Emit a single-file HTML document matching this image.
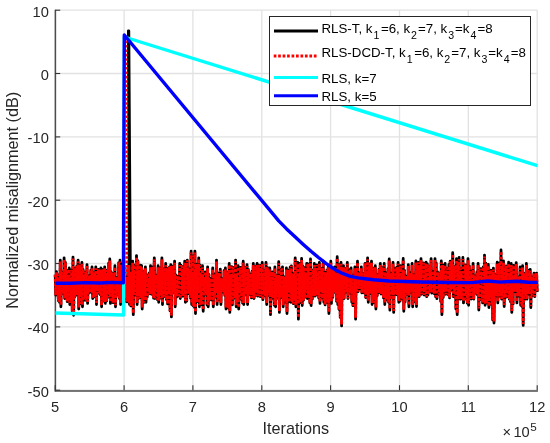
<!DOCTYPE html>
<html><head><meta charset="utf-8"><title>Normalized misalignment</title>
<style>
html,body{margin:0;padding:0;background:#fff;}
svg{display:block;font-family:"Liberation Sans",Arial,Helvetica,sans-serif;}
.tk text{font-size:14.67px;fill:#262626;}
.lg text{font-size:13.3px;fill:#000;}
.lg .s{font-size:10.6px;}
</style></head><body>
<svg width="550" height="443" viewBox="0 0 550 443">
<rect width="550" height="443" fill="#fff"/>
<g stroke="#e2e2e2" stroke-width="1.3" fill="none">
<line x1="55.2" y1="10.2" x2="55.2" y2="390.2"/>
<line x1="124.1" y1="10.2" x2="124.1" y2="390.2"/>
<line x1="192.9" y1="10.2" x2="192.9" y2="390.2"/>
<line x1="261.8" y1="10.2" x2="261.8" y2="390.2"/>
<line x1="330.6" y1="10.2" x2="330.6" y2="390.2"/>
<line x1="399.5" y1="10.2" x2="399.5" y2="390.2"/>
<line x1="468.3" y1="10.2" x2="468.3" y2="390.2"/>
<line x1="537.2" y1="10.2" x2="537.2" y2="390.2"/>
<line x1="55.2" y1="10.2" x2="537.2" y2="10.2"/>
<line x1="55.2" y1="73.5" x2="537.2" y2="73.5"/>
<line x1="55.2" y1="136.9" x2="537.2" y2="136.9"/>
<line x1="55.2" y1="200.2" x2="537.2" y2="200.2"/>
<line x1="55.2" y1="263.5" x2="537.2" y2="263.5"/>
<line x1="55.2" y1="326.9" x2="537.2" y2="326.9"/>
<line x1="55.2" y1="390.2" x2="537.2" y2="390.2"/>
</g>
<g stroke="#4d4d4d" stroke-width="1.5" fill="none">
<line x1="55.4" y1="9.7" x2="55.4" y2="391.6"/>
<line x1="54.7" y1="390.9" x2="537.9" y2="390.9"/>
</g>
<g stroke="#333" stroke-width="1.1" fill="none">
<line x1="55.2" y1="390.2" x2="55.2" y2="385.2"/>
<line x1="124.1" y1="390.2" x2="124.1" y2="385.2"/>
<line x1="192.9" y1="390.2" x2="192.9" y2="385.2"/>
<line x1="261.8" y1="390.2" x2="261.8" y2="385.2"/>
<line x1="330.6" y1="390.2" x2="330.6" y2="385.2"/>
<line x1="399.5" y1="390.2" x2="399.5" y2="385.2"/>
<line x1="468.3" y1="390.2" x2="468.3" y2="385.2"/>
<line x1="537.2" y1="390.2" x2="537.2" y2="385.2"/>
<line x1="55.2" y1="10.2" x2="60.2" y2="10.2"/>
<line x1="55.2" y1="73.5" x2="60.2" y2="73.5"/>
<line x1="55.2" y1="136.9" x2="60.2" y2="136.9"/>
<line x1="55.2" y1="200.2" x2="60.2" y2="200.2"/>
<line x1="55.2" y1="263.5" x2="60.2" y2="263.5"/>
<line x1="55.2" y1="326.9" x2="60.2" y2="326.9"/>
<line x1="55.2" y1="390.2" x2="60.2" y2="390.2"/>
</g>
<g fill="none" stroke-linejoin="round">
<polyline stroke="#000" stroke-width="2.8" stroke-linejoin="round" points="55.2,274.6 55.8,295.2 56.5,271.7 57.1,294.0 57.7,274.6 58.4,300.8 59.0,277.5 59.6,302.4 60.3,260.1 60.9,306.8 61.6,272.0 62.2,292.5 62.8,272.5 63.5,293.4 64.1,257.8 64.7,298.5 65.4,262.4 66.0,298.1 66.6,270.2 67.3,301.6 67.9,276.8 68.5,291.8 69.2,268.0 69.8,304.5 70.4,277.7 71.1,300.9 71.7,269.7 72.3,311.2 73.0,257.1 73.6,315.3 74.3,268.2 74.9,296.8 75.5,276.7 76.2,295.0 76.8,266.0 77.4,294.4 78.1,260.1 78.7,309.0 79.3,265.0 80.0,293.1 80.6,273.8 81.2,303.9 81.9,262.3 82.5,306.8 83.1,269.3 83.8,300.4 84.4,277.1 85.0,296.9 85.7,272.0 86.3,300.5 87.0,264.6 87.6,303.4 88.2,278.2 88.9,293.2 89.5,275.3 90.1,290.2 90.8,270.2 91.4,292.4 92.0,266.8 92.7,298.5 93.3,272.7 93.9,297.0 94.6,271.9 95.2,291.6 95.8,266.8 96.5,304.5 97.1,275.1 97.7,291.4 98.4,269.4 99.0,293.3 99.7,272.7 100.3,294.8 100.9,268.0 101.6,306.8 102.2,278.1 102.8,301.1 103.5,269.2 104.1,301.1 104.7,266.8 105.4,303.4 106.0,276.1 106.6,301.0 107.3,270.1 107.9,291.6 108.5,263.3 109.2,297.4 109.8,258.9 110.4,303.4 111.1,271.7 111.7,293.2 112.4,277.7 113.0,302.7 113.6,273.1 114.3,298.5 114.9,265.7 115.5,306.8 116.2,278.0 116.8,295.3 117.4,277.4 118.1,291.5 118.7,262.7 119.3,298.4 120.0,260.1 120.6,304.5 121.2,265.4 121.9,293.8 122.5,263.5 123.1,303.4 123.8,273.5 124.4,296.1 125.1,268.1 125.7,301.3 126.3,276.3 127.0,301.9 127.6,278.2 128.2,299.7 128.9,263.5 129.2,262.0 128.4,30.8 128.8,30.8 130.3,262.0 129.5,304.5 130.1,272.1 130.8,305.9 131.4,277.6 132.0,305.0 132.7,261.2 133.3,314.7 133.9,264.9 134.6,294.7 135.2,272.8 135.9,295.1 136.5,255.6 137.1,304.5 137.8,260.7 138.4,298.6 139.0,272.2 139.7,294.7 140.3,265.1 140.9,297.9 141.6,265.7 142.2,309.0 142.8,273.1 143.5,302.8 144.1,270.9 144.7,296.5 145.4,266.8 146.0,302.3 146.6,274.6 147.3,296.9 147.9,278.3 148.6,291.1 149.2,272.9 149.8,293.7 150.5,265.7 151.1,294.0 151.7,267.8 152.4,294.5 153.0,266.6 153.6,298.2 154.3,257.8 154.9,298.5 155.5,274.8 156.2,289.4 156.8,275.7 157.4,299.7 158.1,265.7 158.7,302.3 159.3,269.3 160.0,295.5 160.6,267.6 161.3,298.4 161.9,257.8 162.5,304.5 163.2,270.0 163.8,296.6 164.4,268.7 165.1,290.9 165.7,263.5 166.3,299.6 167.0,268.4 167.6,303.9 168.2,269.1 168.9,294.4 169.5,267.0 170.1,310.9 170.8,264.6 171.4,316.9 172.0,265.8 172.7,292.6 173.3,277.5 174.0,291.2 174.6,261.2 175.2,306.8 175.9,275.0 176.5,297.1 177.1,277.4 177.8,296.1 178.4,275.9 179.0,295.8 179.7,263.5 180.3,298.5 180.9,265.1 181.6,294.5 182.2,266.3 182.8,296.3 183.5,268.7 184.1,291.3 184.7,261.2 185.4,302.3 186.0,262.9 186.7,301.2 187.3,260.2 187.9,290.1 188.6,268.6 189.2,293.7 189.8,272.4 190.5,298.3 191.1,251.1 191.7,304.5 192.4,255.6 193.0,305.7 193.6,271.7 194.3,307.3 194.9,251.1 195.5,313.5 196.2,264.0 196.8,302.0 197.5,264.7 198.1,292.1 198.7,257.8 199.4,306.8 200.0,265.0 200.6,304.6 201.3,274.1 201.9,304.6 202.5,265.7 203.2,311.3 203.8,277.2 204.4,291.6 205.1,271.8 205.7,294.3 206.3,272.9 207.0,305.0 207.6,266.8 208.2,306.8 208.9,274.5 209.5,300.2 210.2,278.4 210.8,296.0 211.4,278.2 212.1,300.2 212.7,268.0 213.3,306.8 214.0,273.6 214.6,297.3 215.2,274.3 215.9,293.0 216.5,260.1 217.1,304.5 217.8,277.5 218.4,299.7 219.0,273.0 219.7,293.7 220.3,269.1 220.9,304.5 221.6,278.6 222.2,292.3 222.9,278.5 223.5,292.0 224.1,270.5 224.8,295.5 225.4,268.0 226.0,309.0 226.7,271.8 227.3,295.0 227.9,273.2 228.6,308.3 229.2,263.5 229.8,312.4 230.5,276.7 231.1,304.2 231.7,266.6 232.4,304.8 233.0,267.5 233.6,296.5 234.3,276.4 234.9,298.2 235.6,260.1 236.2,306.8 236.8,274.8 237.5,299.6 238.1,265.7 238.7,309.0 239.4,277.0 240.0,293.3 240.6,267.4 241.3,299.3 241.9,267.5 242.5,303.1 243.2,261.2 243.8,304.5 244.4,267.1 245.1,295.0 245.7,269.8 246.3,292.2 247.0,264.6 247.6,304.5 248.3,269.4 248.9,294.8 249.5,273.6 250.2,293.9 250.8,278.0 251.4,297.9 252.1,271.2 252.7,292.3 253.3,263.5 254.0,298.5 254.6,273.2 255.2,295.7 255.9,266.0 256.5,291.2 257.1,263.5 257.8,296.2 258.4,264.8 259.0,289.5 259.7,268.3 260.3,296.7 261.0,265.2 261.6,290.0 262.2,262.3 262.9,299.6 263.5,276.3 264.1,291.6 264.8,269.8 265.4,295.9 266.0,262.3 266.7,304.5 267.3,267.5 267.9,295.4 268.6,270.6 269.2,293.7 269.8,268.0 270.5,314.7 271.1,276.3 271.8,297.3 272.4,271.8 273.0,298.5 273.7,278.7 274.3,305.3 274.9,266.8 275.6,306.8 276.2,275.4 276.8,298.3 277.5,274.9 278.1,294.3 278.7,261.7 279.4,312.4 280.0,276.8 280.6,293.9 281.3,268.8 281.9,297.8 282.5,266.8 283.2,306.8 283.8,276.7 284.5,301.3 285.1,276.7 285.7,302.2 286.4,268.0 287.0,313.5 287.6,275.3 288.3,302.1 288.9,270.0 289.5,291.7 290.2,266.8 290.8,302.3 291.4,265.8 292.1,302.0 292.7,274.3 293.3,303.6 294.0,273.5 294.6,298.1 295.2,257.8 295.9,306.8 296.5,277.0 297.2,301.3 297.8,262.3 298.4,319.2 299.1,273.9 299.7,300.5 300.3,263.1 301.0,302.8 301.6,258.5 302.2,305.6 302.9,265.9 303.5,300.1 304.1,267.4 304.8,297.4 305.4,273.8 306.0,290.2 306.7,263.5 307.3,298.5 307.9,263.9 308.6,297.2 309.2,271.8 309.9,302.9 310.5,258.9 311.1,305.6 311.8,276.2 312.4,299.0 313.0,269.8 313.7,295.3 314.3,263.5 314.9,296.2 315.6,268.6 316.2,295.1 316.8,265.0 317.5,293.9 318.1,272.2 318.7,298.0 319.4,262.3 320.0,303.4 320.6,268.1 321.3,291.7 321.9,269.6 322.6,298.2 323.2,261.2 323.8,302.3 324.5,277.8 325.1,304.9 325.7,272.2 326.4,298.5 327.0,269.9 327.6,302.6 328.3,265.7 328.9,313.5 329.5,270.7 330.2,298.3 330.8,261.2 331.4,303.4 332.1,270.4 332.7,297.5 333.4,268.3 334.0,290.5 334.6,267.0 335.3,292.5 335.9,273.2 336.5,301.3 337.2,256.7 337.8,304.5 338.4,264.5 339.1,309.6 339.7,269.5 340.3,317.5 341.0,262.3 341.6,325.9 342.2,268.2 342.9,298.9 343.5,265.7 344.1,298.5 344.8,271.6 345.4,292.4 346.1,268.4 346.7,292.2 347.3,262.3 348.0,298.5 348.6,272.0 349.2,292.3 349.9,269.4 350.5,293.2 351.1,268.0 351.8,302.3 352.4,274.8 353.0,305.6 353.7,279.0 354.3,302.2 354.9,266.8 355.6,319.2 356.2,270.4 356.8,291.2 357.5,261.2 358.1,291.7 358.8,272.6 359.4,289.0 360.0,275.1 360.7,289.0 361.3,266.8 361.9,292.9 362.6,274.5 363.2,290.9 363.8,273.2 364.5,293.2 365.1,263.4 365.7,297.6 366.4,270.8 367.0,292.0 367.6,257.8 368.3,302.3 368.9,265.8 369.5,290.3 370.2,263.7 370.8,293.6 371.5,261.2 372.1,304.5 372.7,272.2 373.4,302.7 374.0,268.0 374.6,298.5 375.3,265.7 375.9,309.0 376.5,274.2 377.2,295.8 377.8,276.0 378.4,291.0 379.1,269.1 379.7,292.6 380.3,263.5 381.0,294.0 381.6,267.4 382.2,293.4 382.9,277.5 383.5,297.9 384.2,263.5 384.8,304.5 385.4,272.5 386.1,300.0 386.7,273.6 387.3,298.6 388.0,268.7 388.6,302.3 389.2,258.9 389.9,310.2 390.5,272.9 391.1,297.3 391.8,273.8 392.4,293.2 393.0,262.3 393.7,312.4 394.3,267.9 394.9,294.0 395.6,276.0 396.2,294.5 396.9,267.1 397.5,295.0 398.1,262.3 398.8,302.3 399.4,268.3 400.0,301.2 400.7,265.7 401.3,296.2 401.9,272.9 402.6,299.0 403.2,258.5 403.8,311.3 404.5,270.4 405.1,301.9 405.7,275.8 406.4,293.0 407.0,276.0 407.7,294.7 408.3,264.6 408.9,306.8 409.6,276.1 410.2,292.8 410.8,272.2 411.5,290.6 412.1,263.5 412.7,306.8 413.4,274.2 414.0,302.0 414.6,274.9 415.3,299.0 415.9,261.0 416.5,306.5 417.2,264.5 417.8,290.6 418.4,262.3 419.1,296.6 419.7,266.0 420.4,289.0 421.0,258.6 421.6,294.3 422.3,264.8 422.9,289.1 423.5,262.8 424.2,295.0 424.8,276.0 425.4,290.6 426.1,262.2 426.7,296.7 427.3,263.7 428.0,294.9 428.6,267.6 429.2,291.7 429.9,265.8 430.5,290.5 431.1,258.6 431.8,293.1 432.4,271.2 433.1,291.4 433.7,276.5 434.3,293.8 435.0,258.6 435.6,296.7 436.2,263.0 436.9,298.6 437.5,271.7 438.1,291.5 438.8,275.2 439.4,294.6 440.0,272.8 440.7,301.4 441.3,261.0 441.9,314.7 442.6,265.0 443.2,297.5 443.8,266.4 444.5,290.2 445.1,263.4 445.8,294.3 446.4,275.3 447.0,289.1 447.7,268.4 448.3,294.8 448.9,264.5 449.6,297.9 450.2,261.2 450.8,290.4 451.5,262.3 452.1,289.0 452.7,252.7 453.4,296.7 454.0,266.3 454.6,291.9 455.3,267.2 455.9,309.0 456.5,258.6 457.2,314.7 457.8,263.4 458.5,295.8 459.1,257.4 459.7,299.1 460.4,268.5 461.0,299.0 461.6,271.3 462.3,298.5 462.9,257.4 463.5,302.9 464.2,270.1 464.8,299.0 465.4,264.8 466.1,294.9 466.7,276.3 467.3,303.2 468.0,258.6 468.6,305.3 469.3,265.9 469.9,292.8 470.5,270.7 471.2,299.0 471.8,271.7 472.4,291.8 473.1,263.4 473.7,299.1 474.3,275.3 475.0,293.4 475.6,275.9 476.2,291.5 476.9,272.0 477.5,294.9 478.1,263.4 478.8,310.0 479.4,273.4 480.0,299.8 480.7,268.7 481.3,291.6 482.0,274.2 482.6,302.9 483.2,267.0 483.9,301.2 484.5,255.1 485.1,305.3 485.8,263.2 486.4,303.2 487.0,277.8 487.7,298.5 488.3,264.5 488.9,307.6 489.6,278.0 490.2,297.8 490.8,270.1 491.5,304.5 492.1,274.7 492.7,319.9 493.4,268.1 494.0,323.0 494.7,274.1 495.3,294.0 495.9,277.1 496.6,296.1 497.2,262.2 497.8,302.9 498.5,264.3 499.1,292.4 499.7,263.0 500.4,296.5 501.0,249.9 501.6,299.1 502.3,265.9 502.9,292.6 503.5,261.0 504.2,306.5 504.8,275.2 505.4,297.7 506.1,265.8 506.7,290.8 507.4,270.0 508.0,296.6 508.6,262.2 509.3,299.1 509.9,273.0 510.5,301.6 511.2,263.4 511.8,312.4 512.4,276.7 513.1,303.9 513.7,265.5 514.3,291.6 515.0,274.6 515.6,291.7 516.2,262.6 516.9,302.9 517.5,277.9 518.1,293.9 518.8,276.6 519.4,296.2 520.1,266.9 520.7,305.3 521.3,277.2 522.0,306.4 522.6,265.7 523.2,325.4 523.9,273.2 524.5,293.6 525.1,273.7 525.8,299.1 526.4,263.4 527.0,299.1 527.7,270.0 528.3,294.3 528.9,271.9 529.6,290.8 530.2,269.3 530.8,307.6 531.5,276.6 532.1,295.8 532.8,276.7 533.4,289.2 534.0,273.1 534.7,296.7 535.3,280.0 535.9,289.0 536.6,273.1 537.2,292.0"/>
<polyline stroke="#f00" stroke-width="2.9" stroke-linejoin="bevel" stroke-dasharray="2.7 1.76" points="55.2,274.6 55.8,295.2 56.5,271.7 57.1,294.0 57.7,274.6 58.4,300.8 59.0,277.5 59.6,302.4 60.3,261.6 60.9,305.3 61.6,272.0 62.2,292.5 62.8,272.5 63.5,293.4 64.1,259.3 64.7,298.5 65.4,262.4 66.0,298.1 66.6,270.2 67.3,301.6 67.9,276.8 68.5,291.8 69.2,269.5 69.8,303.0 70.4,277.7 71.1,300.9 71.7,269.7 72.3,311.2 73.0,258.6 73.6,313.8 74.3,268.2 74.9,296.8 75.5,276.7 76.2,295.0 76.8,266.0 77.4,294.4 78.1,261.6 78.7,307.5 79.3,265.0 80.0,293.1 80.6,273.8 81.2,303.9 81.9,263.8 82.5,305.3 83.1,269.3 83.8,300.4 84.4,277.1 85.0,296.9 85.7,272.0 86.3,300.5 87.0,266.1 87.6,301.9 88.2,278.2 88.9,293.2 89.5,275.3 90.1,290.2 90.8,270.2 91.4,292.4 92.0,268.3 92.7,298.5 93.3,272.7 93.9,297.0 94.6,271.9 95.2,291.6 95.8,268.3 96.5,303.0 97.1,275.1 97.7,291.4 98.4,269.4 99.0,293.3 99.7,272.7 100.3,294.8 100.9,269.5 101.6,305.3 102.2,278.1 102.8,301.1 103.5,269.2 104.1,301.1 104.7,268.3 105.4,301.9 106.0,276.1 106.6,301.0 107.3,270.1 107.9,291.6 108.5,263.3 109.2,297.4 109.8,260.4 110.4,301.9 111.1,271.7 111.7,293.2 112.4,277.7 113.0,302.7 113.6,273.1 114.3,298.5 114.9,267.2 115.5,305.3 116.2,278.0 116.8,295.3 117.4,277.4 118.1,291.5 118.7,262.7 119.3,298.4 120.0,261.6 120.6,303.0 121.2,265.4 121.9,293.8 122.5,265.0 123.1,301.9 123.8,273.5 124.4,296.1 125.1,268.1 125.7,301.3 126.3,276.3 127.0,301.9 127.6,278.2 128.2,299.7 128.9,265.0 129.5,303.0 130.1,272.1 130.8,305.9 131.4,277.6 132.0,305.0 132.7,262.7 133.3,313.2 133.9,264.9 134.6,294.7 135.2,272.8 135.9,295.1 136.5,257.1 137.1,303.0 137.8,260.7 138.4,298.6 139.0,272.2 139.7,294.7 140.3,265.1 140.9,297.9 141.6,267.2 142.2,307.5 142.8,273.1 143.5,302.8 144.1,270.9 144.7,296.5 145.4,268.3 146.0,300.8 146.6,274.6 147.3,296.9 147.9,278.3 148.6,291.1 149.2,272.9 149.8,293.7 150.5,267.2 151.1,294.0 151.7,267.8 152.4,294.5 153.0,266.6 153.6,298.2 154.3,259.3 154.9,298.5 155.5,274.8 156.2,289.4 156.8,275.7 157.4,299.7 158.1,267.2 158.7,300.8 159.3,269.3 160.0,295.5 160.6,267.6 161.3,298.4 161.9,259.3 162.5,303.0 163.2,270.0 163.8,296.6 164.4,268.7 165.1,290.9 165.7,265.0 166.3,299.6 167.0,268.4 167.6,303.9 168.2,269.1 168.9,294.4 169.5,267.0 170.1,310.9 170.8,266.1 171.4,315.4 172.0,265.8 172.7,292.6 173.3,277.5 174.0,291.2 174.6,262.7 175.2,305.3 175.9,275.0 176.5,297.1 177.1,277.4 177.8,296.1 178.4,275.9 179.0,295.8 179.7,265.0 180.3,298.5 180.9,265.1 181.6,294.5 182.2,266.3 182.8,296.3 183.5,268.7 184.1,291.3 184.7,262.7 185.4,300.8 186.0,262.9 186.7,301.2 187.3,260.2 187.9,290.1 188.6,268.6 189.2,293.7 189.8,272.4 190.5,298.3 191.1,252.6 191.7,303.0 192.4,255.6 193.0,305.7 193.6,271.7 194.3,307.3 194.9,252.6 195.5,312.0 196.2,264.0 196.8,302.0 197.5,264.7 198.1,292.1 198.7,259.3 199.4,305.3 200.0,265.0 200.6,304.6 201.3,274.1 201.9,304.6 202.5,267.2 203.2,309.8 203.8,277.2 204.4,291.6 205.1,271.8 205.7,294.3 206.3,272.9 207.0,305.0 207.6,268.3 208.2,305.3 208.9,274.5 209.5,300.2 210.2,278.4 210.8,296.0 211.4,278.2 212.1,300.2 212.7,269.5 213.3,305.3 214.0,273.6 214.6,297.3 215.2,274.3 215.9,293.0 216.5,261.6 217.1,303.0 217.8,277.5 218.4,299.7 219.0,273.0 219.7,293.7 220.3,270.6 220.9,303.0 221.6,278.6 222.2,292.3 222.9,278.5 223.5,292.0 224.1,270.5 224.8,295.5 225.4,269.5 226.0,307.5 226.7,271.8 227.3,295.0 227.9,273.2 228.6,308.3 229.2,265.0 229.8,310.9 230.5,276.7 231.1,304.2 231.7,266.6 232.4,304.8 233.0,267.5 233.6,296.5 234.3,276.4 234.9,298.2 235.6,261.6 236.2,305.3 236.8,274.8 237.5,299.6 238.1,267.2 238.7,307.5 239.4,277.0 240.0,293.3 240.6,267.4 241.3,299.3 241.9,267.5 242.5,303.1 243.2,262.7 243.8,303.0 244.4,267.1 245.1,295.0 245.7,269.8 246.3,292.2 247.0,266.1 247.6,303.0 248.3,269.4 248.9,294.8 249.5,273.6 250.2,293.9 250.8,278.0 251.4,297.9 252.1,271.2 252.7,292.3 253.3,265.0 254.0,298.5 254.6,273.2 255.2,295.7 255.9,266.0 256.5,291.2 257.1,265.0 257.8,296.2 258.4,264.8 259.0,289.5 259.7,268.3 260.3,296.7 261.0,265.2 261.6,290.0 262.2,263.8 262.9,299.6 263.5,276.3 264.1,291.6 264.8,269.8 265.4,295.9 266.0,263.8 266.7,303.0 267.3,267.5 267.9,295.4 268.6,270.6 269.2,293.7 269.8,269.5 270.5,313.2 271.1,276.3 271.8,297.3 272.4,271.8 273.0,298.5 273.7,278.7 274.3,305.3 274.9,268.3 275.6,305.3 276.2,275.4 276.8,298.3 277.5,274.9 278.1,294.3 278.7,263.2 279.4,310.9 280.0,276.8 280.6,293.9 281.3,268.8 281.9,297.8 282.5,268.3 283.2,305.3 283.8,276.7 284.5,301.3 285.1,276.7 285.7,302.2 286.4,269.5 287.0,312.0 287.6,275.3 288.3,302.1 288.9,270.0 289.5,291.7 290.2,268.3 290.8,300.8 291.4,265.8 292.1,302.0 292.7,274.3 293.3,303.6 294.0,273.5 294.6,298.1 295.2,259.3 295.9,305.3 296.5,277.0 297.2,301.3 297.8,263.8 298.4,317.7 299.1,273.9 299.7,300.5 300.3,263.1 301.0,302.8 301.6,260.0 302.2,304.1 302.9,265.9 303.5,300.1 304.1,267.4 304.8,297.4 305.4,273.8 306.0,290.2 306.7,265.0 307.3,298.5 307.9,263.9 308.6,297.2 309.2,271.8 309.9,302.9 310.5,260.4 311.1,304.1 311.8,276.2 312.4,299.0 313.0,269.8 313.7,295.3 314.3,265.0 314.9,296.2 315.6,268.6 316.2,295.1 316.8,265.0 317.5,293.9 318.1,272.2 318.7,298.0 319.4,263.8 320.0,301.9 320.6,268.1 321.3,291.7 321.9,269.6 322.6,298.2 323.2,262.7 323.8,300.8 324.5,277.8 325.1,304.9 325.7,272.2 326.4,298.5 327.0,269.9 327.6,302.6 328.3,267.2 328.9,312.0 329.5,270.7 330.2,298.3 330.8,262.7 331.4,301.9 332.1,270.4 332.7,297.5 333.4,268.3 334.0,290.5 334.6,267.0 335.3,292.5 335.9,273.2 336.5,301.3 337.2,258.2 337.8,303.0 338.4,264.5 339.1,309.6 339.7,269.5 340.3,317.5 341.0,263.8 341.6,324.4 342.2,268.2 342.9,298.9 343.5,267.2 344.1,298.5 344.8,271.6 345.4,292.4 346.1,268.4 346.7,292.2 347.3,263.8 348.0,298.5 348.6,272.0 349.2,292.3 349.9,269.4 350.5,293.2 351.1,269.5 351.8,300.8 352.4,274.8 353.0,305.6 353.7,279.0 354.3,302.2 354.9,268.3 355.6,317.7 356.2,270.4 356.8,291.2 357.5,262.7 358.1,291.7 358.8,272.6 359.4,289.0 360.0,275.1 360.7,289.0 361.3,268.3 361.9,292.9 362.6,274.5 363.2,290.9 363.8,273.2 364.5,293.2 365.1,263.4 365.7,297.6 366.4,270.8 367.0,292.0 367.6,259.3 368.3,300.8 368.9,265.8 369.5,290.3 370.2,263.7 370.8,293.6 371.5,262.7 372.1,303.0 372.7,272.2 373.4,302.7 374.0,268.0 374.6,298.5 375.3,267.2 375.9,307.5 376.5,274.2 377.2,295.8 377.8,276.0 378.4,291.0 379.1,269.1 379.7,292.6 380.3,265.0 381.0,294.0 381.6,267.4 382.2,293.4 382.9,277.5 383.5,297.9 384.2,265.0 384.8,303.0 385.4,272.5 386.1,300.0 386.7,273.6 387.3,298.6 388.0,268.7 388.6,302.3 389.2,260.4 389.9,308.7 390.5,272.9 391.1,297.3 391.8,273.8 392.4,293.2 393.0,263.8 393.7,310.9 394.3,267.9 394.9,294.0 395.6,276.0 396.2,294.5 396.9,267.1 397.5,295.0 398.1,263.8 398.8,300.8 399.4,268.3 400.0,301.2 400.7,265.7 401.3,296.2 401.9,272.9 402.6,299.0 403.2,260.0 403.8,309.8 404.5,270.4 405.1,301.9 405.7,275.8 406.4,293.0 407.0,276.0 407.7,294.7 408.3,266.1 408.9,305.3 409.6,276.1 410.2,292.8 410.8,272.2 411.5,290.6 412.1,265.0 412.7,305.3 413.4,274.2 414.0,302.0 414.6,274.9 415.3,299.0 415.9,262.5 416.5,305.0 417.2,264.5 417.8,290.6 418.4,262.3 419.1,296.6 419.7,266.0 420.4,289.0 421.0,260.1 421.6,294.3 422.3,264.8 422.9,289.1 423.5,262.8 424.2,295.0 424.8,276.0 425.4,290.6 426.1,263.7 426.7,296.7 427.3,263.7 428.0,294.9 428.6,267.6 429.2,291.7 429.9,265.8 430.5,290.5 431.1,260.1 431.8,293.1 432.4,271.2 433.1,291.4 433.7,276.5 434.3,293.8 435.0,260.1 435.6,296.7 436.2,263.0 436.9,298.6 437.5,271.7 438.1,291.5 438.8,275.2 439.4,294.6 440.0,272.8 440.7,301.4 441.3,262.5 441.9,313.2 442.6,265.0 443.2,297.5 443.8,266.4 444.5,290.2 445.1,264.9 445.8,294.3 446.4,275.3 447.0,289.1 447.7,268.4 448.3,294.8 448.9,266.0 449.6,297.9 450.2,261.2 450.8,290.4 451.5,262.3 452.1,289.0 452.7,254.2 453.4,296.7 454.0,266.3 454.6,291.9 455.3,267.2 455.9,309.0 456.5,260.1 457.2,313.2 457.8,263.4 458.5,295.8 459.1,258.9 459.7,299.1 460.4,268.5 461.0,299.0 461.6,271.3 462.3,298.5 462.9,258.9 463.5,301.4 464.2,270.1 464.8,299.0 465.4,264.8 466.1,294.9 466.7,276.3 467.3,303.2 468.0,260.1 468.6,303.8 469.3,265.9 469.9,292.8 470.5,270.7 471.2,299.0 471.8,271.7 472.4,291.8 473.1,264.9 473.7,299.1 474.3,275.3 475.0,293.4 475.6,275.9 476.2,291.5 476.9,272.0 477.5,294.9 478.1,264.9 478.8,308.5 479.4,273.4 480.0,299.8 480.7,268.7 481.3,291.6 482.0,274.2 482.6,302.9 483.2,267.0 483.9,301.2 484.5,256.6 485.1,303.8 485.8,263.2 486.4,303.2 487.0,277.8 487.7,298.5 488.3,266.0 488.9,306.1 489.6,278.0 490.2,297.8 490.8,270.1 491.5,304.5 492.1,274.7 492.7,319.9 493.4,269.6 494.0,321.5 494.7,274.1 495.3,294.0 495.9,277.1 496.6,296.1 497.2,263.7 497.8,301.4 498.5,264.3 499.1,292.4 499.7,263.0 500.4,296.5 501.0,251.4 501.6,299.1 502.3,265.9 502.9,292.6 503.5,262.5 504.2,305.0 504.8,275.2 505.4,297.7 506.1,265.8 506.7,290.8 507.4,270.0 508.0,296.6 508.6,263.7 509.3,299.1 509.9,273.0 510.5,301.6 511.2,264.9 511.8,310.9 512.4,276.7 513.1,303.9 513.7,265.5 514.3,291.6 515.0,274.6 515.6,291.7 516.2,264.1 516.9,301.4 517.5,277.9 518.1,293.9 518.8,276.6 519.4,296.2 520.1,268.4 520.7,303.8 521.3,277.2 522.0,306.4 522.6,267.2 523.2,323.9 523.9,273.2 524.5,293.6 525.1,273.7 525.8,299.1 526.4,264.9 527.0,299.1 527.7,270.0 528.3,294.3 528.9,271.9 529.6,290.8 530.2,270.8 530.8,306.1 531.5,276.6 532.1,295.8 532.8,276.7 533.4,289.2 534.0,273.1 534.7,296.7 535.3,280.0 535.9,289.0 536.6,273.1 537.2,292.0"/>
<line x1="126.6" y1="272" x2="125.7" y2="36" stroke="#f00" stroke-width="3.2" stroke-dasharray="2.6 1.8"/>
<polyline stroke="#0ff" stroke-width="3.4" points="55.5,313.0 123.6,315.0 124.4,36.5 126.0,37.5 537.5,165.7"/>
<polyline stroke="#00f" stroke-width="3.4" points="55.5,283.3 70.0,283.2 85.0,282.6 100.0,283.0 112.0,282.4 123.4,282.8 124.3,35.0 278.7,220.9 286.6,228.9 295.0,236.8 303.0,244.2 311.0,251.3 318.5,257.5 326.6,263.8 330.6,266.7 334.5,269.2 342.4,273.4 350.3,276.3 358.2,277.9 365.0,278.7 373.6,279.8 389.0,281.0 420.0,282.0 450.0,282.5 472.0,282.6 488.0,281.0 500.0,282.1 517.0,281.2 528.0,282.3 537.5,282.4"/>
</g>
<g class="tk">
<text x="55.2" y="412.4" text-anchor="middle">5</text>
<text x="124.1" y="412.4" text-anchor="middle">6</text>
<text x="192.9" y="412.4" text-anchor="middle">7</text>
<text x="261.8" y="412.4" text-anchor="middle">8</text>
<text x="330.6" y="412.4" text-anchor="middle">9</text>
<text x="399.5" y="412.4" text-anchor="middle">10</text>
<text x="468.3" y="412.4" text-anchor="middle">11</text>
<text x="537.2" y="412.4" text-anchor="middle">12</text>
<text x="48.8" y="16.6" text-anchor="end">10</text>
<text x="48.8" y="79.9" text-anchor="end">0</text>
<text x="48.8" y="143.3" text-anchor="end">-10</text>
<text x="48.8" y="206.6" text-anchor="end">-20</text>
<text x="48.8" y="269.9" text-anchor="end">-30</text>
<text x="48.8" y="333.3" text-anchor="end">-40</text>
<text x="48.8" y="396.6" text-anchor="end">-50</text>
<text x="295.8" y="433.6" text-anchor="middle" style="font-size:16.2px">Iterations</text>
<text transform="translate(18,200.3) rotate(-90)" text-anchor="middle" style="font-size:16.2px">Normalized misalignment (dB)</text>
<text x="502.6" y="436.5">×</text><text x="513.4" y="436.5">10</text><text x="530.2" y="431" style="font-size:11.7px">5</text>
</g>
<g class="lg">
<rect x="269.5" y="16.5" width="261" height="89" fill="#fff" stroke="#262626" stroke-width="1"/>
<line x1="274" y1="31" x2="318" y2="31" stroke="#000" stroke-width="3"/>
<line x1="273.7" y1="56" x2="318" y2="56" stroke="#f00" stroke-width="3.2" stroke-dasharray="2.7 1.76"/>
<line x1="274" y1="77.4" x2="318" y2="77.4" stroke="#0ff" stroke-width="3"/>
<line x1="274" y1="95.7" x2="318" y2="95.7" stroke="#00f" stroke-width="3"/>
<text x="321.5" y="33">RLS-T, k<tspan class="s" dy="6" dx="1">1</tspan><tspan dy="-6" dx="1.5">=6, k</tspan><tspan class="s" dy="6" dx="1">2</tspan><tspan dy="-6" dx="1">=7, k</tspan><tspan class="s" dy="6" dx="1">3</tspan><tspan dy="-6" dx="1">=k</tspan><tspan class="s" dy="6" dx="1">4</tspan><tspan dy="-6" dx="1">=8</tspan></text>
<text x="321.5" y="57.4">RLS-DCD-T, k<tspan class="s" dy="6" dx="1">1</tspan><tspan dy="-6" dx="1.5">=6, k</tspan><tspan class="s" dy="6" dx="1">2</tspan><tspan dy="-6" dx="1">=7, k</tspan><tspan class="s" dy="6" dx="1">3</tspan><tspan dy="-6" dx="1">=k</tspan><tspan class="s" dy="6" dx="1">4</tspan><tspan dy="-6" dx="1">=8</tspan></text>
<text x="321.5" y="83">RLS, k=7</text>
<text x="321.5" y="101.3">RLS, k=5</text>
</g>
</svg>
</body></html>
